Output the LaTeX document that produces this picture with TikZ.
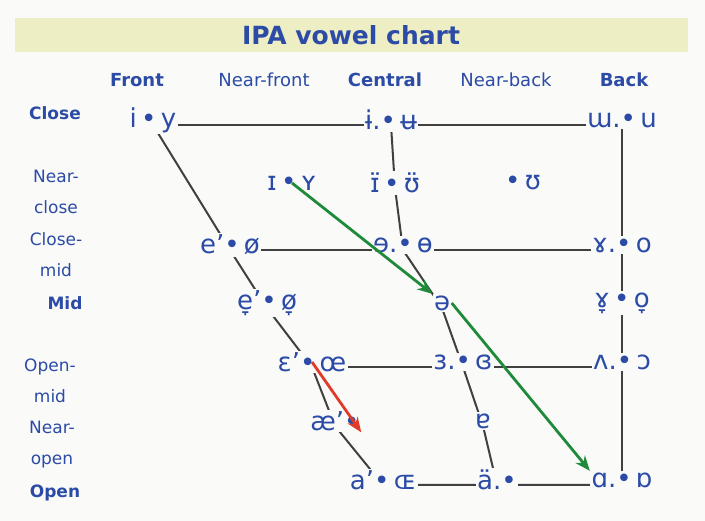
\documentclass[tikz,border=0pt]{standalone}
\usepackage{fontspec}
\setmainfont{DejaVu Sans}
\definecolor{bg}{HTML}{FAFAF8}
\definecolor{tb}{HTML}{EEEEC4}
\definecolor{ib}{HTML}{2B4BA6}
\definecolor{gr}{HTML}{1E8A3A}
\definecolor{rd}{HTML}{E03A2A}
\pgfdeclarelayer{back}
\pgfdeclarelayer{bottom}
\pgfsetlayers{bottom,back,main}
\usetikzlibrary{arrows.meta}
\tikzset{
 v/.style={fill=bg,inner sep=1.5pt,text=ib,font=\fontsize{26}{26}\selectfont},
 hd/.style={text=ib,font=\fontsize{18}{18}\selectfont},
 hb/.style={text=ib,font=\fontsize{18}{18}\selectfont\bfseries},
 rl/.style={text=ib,align=center,font=\fontsize{17}{31}\selectfont},
 rb/.style={text=ib,align=center,font=\fontsize{17}{31}\selectfont\bfseries},
 ln/.style={line width=2pt,draw=black!75},
 ar/.style={line width=2.8pt,-{Stealth[length=15pt,width=12pt]}}
}
\begin{document}
\begin{tikzpicture}[x=1pt,y=-1pt]
\begin{pgfonlayer}{bottom}
\fill[bg] (0,0) rectangle (705,521);
\fill[tb] (15,18) rectangle (688,52);
\end{pgfonlayer}
\useasboundingbox (0,0) rectangle (705,521);
\node[text=ib,font=\fontsize{25}{25}\selectfont\bfseries] (title) at (351,35) {IPA vowel chart};
\node[hb] (h1) at (137,80) {Front};
\node[hd] (h2) at (264,80) {Near-front};
\node[hb] (h3) at (385,80) {Central};
\node[hd] (h4) at (506,80) {Near-back};
\node[hb] (h5) at (624,80) {Back};
\node[rb] (r1) at (55,113) {Close};
\node[rl] (r2) at (56,192) {Near-\\close};
\node[rl] (r3) at (56,255) {Close-\\mid};
\node[rb] (r4) at (65,303) {Mid};
\node[rl] (r5) at (50,381) {Open-\\mid};
\node[rl] (r6) at (52,445) {Near-\\open};
\node[rb] (r7) at (55,493) {Open};
% vowels
\node[v] (iy) at (153,120) {i\,•\,y};
\node[v] (cu) at (391,120) {ɨ.•\,ʉ};
\node[v] (mu) at (622,120) {ɯ.•\,u};
\node[v] (IY) at (292,183) {ɪ\,•\,ʏ};
\node[v] (Iu) at (395,183) {ɪ̈\,•\,ʊ̈};
\node[v] (U) at (523,183) {•\,ʊ};
\node[v] (eo) at (230,245) {e'•\,ø};
\node[v] (ce) at (403,245) {ɘ.•\,ɵ};
\node[v] (go) at (622,245) {ɤ.•\,o};
\node[v] (EO) at (267,303) {e̞'•\,ø̞};
\node[v] (sw) at (442,303) {ə};
\node[v] (GO) at (622,303) {ɤ̞\,•\,o̞};
\node[v] (oe) at (312,362) {ɛ'•\,œ};
\node[v] (ee) at (463,362) {ɜ.•\,ɞ};
\node[v] (vc) at (622,362) {ʌ.•\,ɔ};
\node[v] (ae) at (335,421) {æ'•};
\node[v] (ea) at (483,421) {ɐ};
\node[v] (aoe) at (383,480) {a'•\,ɶ};
\node[v] (aa) at (497,480) {ä.•};
\node[v] (ao) at (622,480) {ɑ.•\,ɒ};
\begin{pgfonlayer}{back}
\begin{scope}[transform canvas={yshift=-5pt}]
\draw[ln] (iy.center) -- (cu.center) -- (mu.center) -- (ao.center);
\draw[ln] (iy.center) -- (eo.center) -- (EO.center) -- (oe.center) -- (ae.center) -- (aoe.center) -- (aa.center) -- (ao.center);
\draw[ln] (cu.center) -- (Iu.center) -- (ce.center) -- (sw.center) -- (ee.center) -- (ea.center) -- (aa.center);
\draw[ln] (eo.center) -- (ce.center) -- (go.center);
\draw[ln] (oe.center) -- (ee.center) -- (vc.center);
\end{scope}
\end{pgfonlayer}
\draw[ar,gr] (IY.center) -- (sw.north west);
\draw[ar,gr] (sw.east) -- (ao.north west);
\draw[ar,rd] (oe.center) -- (ae.south east);
\end{tikzpicture}
\end{document}
